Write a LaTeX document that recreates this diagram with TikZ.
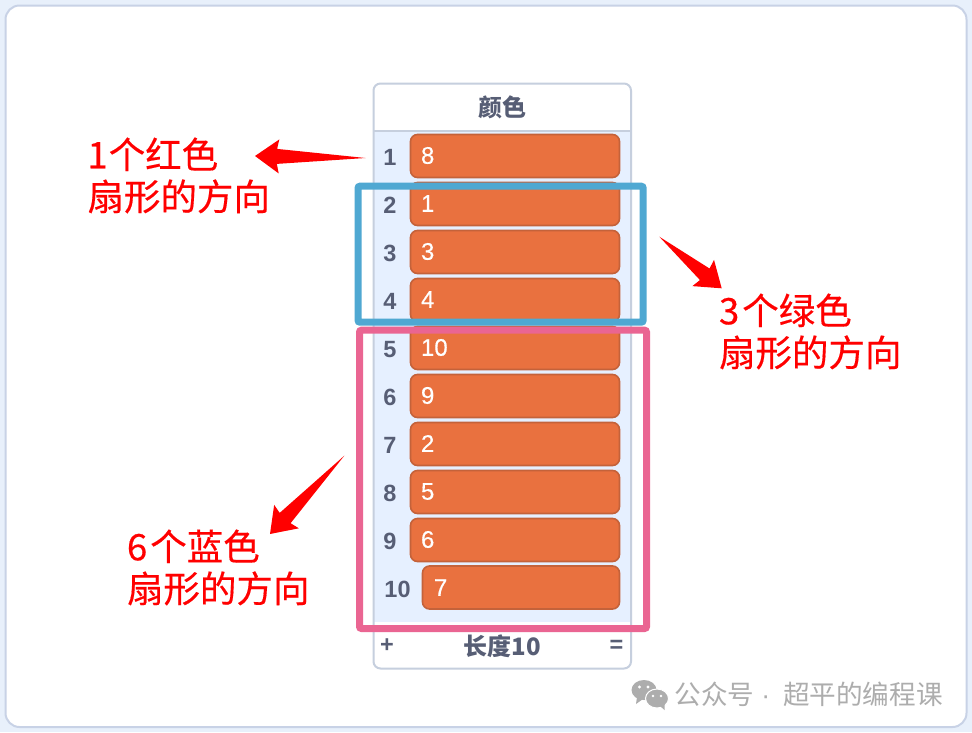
\documentclass[tikz,border=0pt]{standalone}
\usepackage{fontspec}
\usetikzlibrary{calc}
\setmainfont{Liberation Sans}
\newfontfamily\cjk{Noto Sans CJK SC}
\newfontfamily\cjknote[FakeBold=0.4]{Noto Sans CJK SC}
\newfontfamily\valfont[FakeBold=0.4]{Liberation Sans}
\definecolor{pagebg}{HTML}{E8F0FB}
\definecolor{cardline}{HTML}{C8D2E6}
\definecolor{listline}{HTML}{C6CFDE}
\definecolor{listbody}{HTML}{E6F0FF}
\definecolor{inkgrey}{HTML}{575E75}
\definecolor{barfill}{HTML}{E9713F}
\definecolor{barline}{HTML}{C4623A}
\definecolor{boxblue}{HTML}{4FA8D2}
\definecolor{boxpink}{HTML}{EA6592}
\definecolor{notered}{HTML}{FF0000}
\definecolor{wm}{HTML}{ADADAD}
\tikzset{
  x=1pt,y=-1pt,
  every node/.style={inner sep=0pt,outer sep=0pt},
  barbox/.style={draw=barline,fill=barfill,line width=1.6pt,rounded corners=7pt},
  rownum/.style={text=inkgrey,font=\fontsize{23.5}{25}\selectfont\bfseries},
  barval/.style={text=white,anchor=west,font=\fontsize{24}{26}\selectfont\valfont},
  listtitle/.style={text=inkgrey,font=\fontsize{24}{26}\selectfont\cjk\bfseries},
  note/.style={text=notered,anchor=north west,align=left,font=\fontsize{36.5}{42}\selectfont\cjknote},
  markbox/.style={line width=7pt,rounded corners=2pt},
}
\newcommand{\redarrow}[3]{%
  \coordinate (#1tip) at #2;
  \coordinate (#1tail) at #3;
  \coordinate (#1outer) at ($(#1tip)!24pt!(#1tail)$);
  \coordinate (#1inner) at ($(#1tip)!22pt!(#1tail)$);
  \fill[notered] (#1tip) -- ($(#1outer)!17pt!90:(#1tip)$) -- ($(#1inner)!7.5pt!90:(#1tip)$)
     -- (#1tail) -- ($(#1inner)!7.5pt!-90:(#1tip)$) -- ($(#1outer)!17pt!-90:(#1tip)$) -- cycle;
}
\begin{document}
\begin{tikzpicture}
\useasboundingbox (0,0) rectangle (972,732);
\fill[pagebg] (0,0) rectangle (972,732);
\draw[cardline,fill=white,line width=2pt,rounded corners=14pt] (5.5,5.5) rectangle (966.5,727);

% list monitor
\fill[white,rounded corners=7pt] (373.5,83.5) rectangle (631,668.5);
\fill[listbody] (373.5,131) rectangle (631,622);
\draw[listline,line width=1.5pt] (373.5,131) -- (631,131);
\draw[listline,line width=2pt,rounded corners=7pt] (373.5,83.5) rectangle (631,668.5);
\node[listtitle] (title) at (502,107) {颜色};

\foreach \i/\v [evaluate=\i as \yn using 157.5+48*(\i-1),
                evaluate=\i as \yb using 156+48*(\i-1),
                evaluate=\i as \yv using 155.5+48*(\i-1)]
   in {1/8,2/1,3/3,4/4,5/10,6/9,7/2,8/5,9/6}{
  \node[rownum] (num\i) at (390,\yn) {\i};
  \draw[barbox] (410.5,\yb-21.5) rectangle (619.5,\yb+21.5);
  \node[barval] (val\i) at (421,\yv) {\v};
}
\node[rownum] (num10) at (397.5,589.5) {10};
\draw[barbox] (422.5,566) rectangle (619.5,609);
\node[barval] (val10) at (434,587.5) {7};

% footer
\node[rownum] (plus) at (387,646) {+};
\node[listtitle] (len) at (502.5,646) {长度10};
\node[rownum] (eq) at (616.5,646) {=};

% highlight boxes
\draw[boxblue,markbox] (358,186.2) rectangle (643.2,322.2);
\draw[boxpink,markbox] (359.5,330.2) rectangle (646.5,628.5);

% notes
\node[note] (noteA) at (87.5,137.5) {1\hspace{1pt}个红色\\扇形的方向};
\node[note] (noteB) at (719,293.5) {3\hspace{3pt}个绿色\\扇形的方向};
\node[note] (noteC) at (127,529.5) {6\hspace{3pt}个蓝色\\扇形的方向};

% arrows
\redarrow{a}{(255,156)}{(365.5,158)}
\redarrow{b}{(721.7,288.3)}{(659.3,236.7)}
\redarrow{c}{(270,534)}{(344.3,455.7)}

% watermark
\fill[wm] (644,690) ellipse [x radius=12.5,y radius=10];
\fill[wm] (637,697) -- (636,704) -- (643,699) -- cycle;
\fill[white] (639.5,687) circle (1.6) (648,687) circle (1.6);
\filldraw[wm,draw=white,line width=1pt] (657,698.5) ellipse [x radius=11.5,y radius=9.5];
\fill[wm] (660,706) -- (664.5,710) -- (664.5,704) -- cycle;
\fill[white] (653,696) circle (1.4) (661,696) circle (1.4);
\node[text=wm,anchor=west,font=\fontsize{26.6}{28}\selectfont\cjk] (brand) at (674.5,694)
  {公众号\hspace{7pt}{\rmfamily ·}\hspace{13pt}超平的编程课};
\end{tikzpicture}
\end{document}
